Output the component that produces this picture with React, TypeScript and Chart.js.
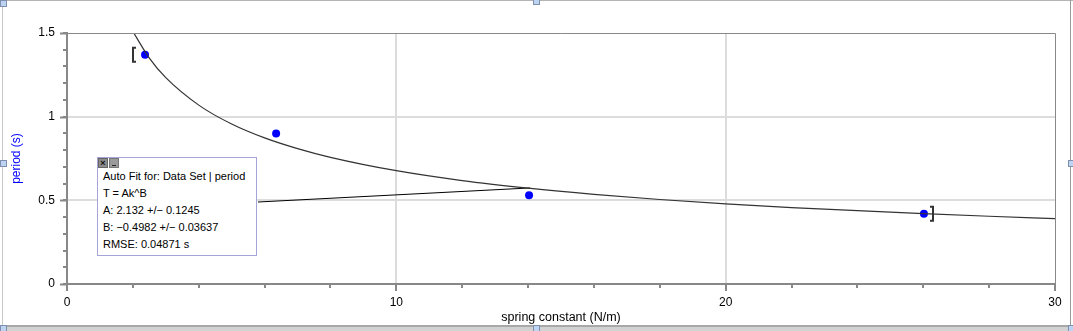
import React, { useEffect, useRef } from "react";
import { Chart, registerables } from "chart.js";

Chart.register(...registerables);

// Measured data (spring constant vs period)
const springK = [2.37, 6.35, 14.03, 26.02];
const period = [1.37, 0.9, 0.53, 0.42];

const fitK = [2, 2.5, 3, 4, 5, 6, 7, 8, 10, 12, 14, 16, 18, 20, 22, 24, 26, 28, 30];
const fitT = [1.509, 1.35, 1.233, 1.069, 0.956, 0.873, 0.809, 0.757, 0.677, 0.618, 0.573, 0.536, 0.505, 0.479, 0.457, 0.438, 0.421, 0.405, 0.391];

// Connector from the fit-info box to the curve
const connectorK = [5.8, 14.06];
const connectorT = [0.49, 0.574];

// Range brackets
const bracketK = [2.0, 26.3];
const bracketT = [1.37, 0.42];

const xMajor = [0, 10, 20, 30];
const yMajor = [0, 0.5, 1, 1.5];

const fitLines = [
  "Auto Fit for: Data Set | period",
  "T = Ak^B",
  "A: 2.132 +/\u2212 0.1245",
  "B: \u22120.4982 +/\u2212 0.03637",
  "RMSE: 0.04871 s",
];

const FONT = "'Liberation Sans', Arial, sans-serif";

const isMajor = (v: number, step: number) => Math.abs(v / step - Math.round(v / step)) < 1e-6;

const framePlugin = {
  id: "framePlugin",
  afterDraw(chart: any) {
    const { ctx, chartArea, scales } = chart;
    const { left, right, top, bottom } = chartArea;
    ctx.save();
    ctx.strokeStyle = "#888";
    ctx.lineWidth = 1;
    ctx.beginPath();
    ctx.moveTo(left, top + 0.5);
    ctx.lineTo(right + 0.5, top + 0.5);
    ctx.lineTo(right + 0.5, bottom);
    ctx.stroke();
    // long major ticks
    ctx.lineWidth = 2;
    ctx.beginPath();
    yMajor.forEach((v) => {
      const py = Math.round(scales.y.getPixelForValue(v)) + 0.5;
      ctx.moveTo(left - 7, py);
      ctx.lineTo(left, py);
    });
    xMajor.forEach((v) => {
      const px = Math.round(scales.x.getPixelForValue(v));
      ctx.moveTo(px, bottom);
      ctx.lineTo(px, bottom + 7);
    });
    ctx.stroke();
    ctx.restore();
  },
  afterDatasetsDraw(chart: any) {
    const { ctx, scales } = chart;
    ctx.save();
    ctx.strokeStyle = "#333";
    ctx.lineWidth = 2;
    bracketK.forEach((k, i) => {
      const px = Math.round(scales.x.getPixelForValue(k));
      const py = scales.y.getPixelForValue(bracketT[i]);
      const h = 7;
      const dir = i === 0 ? 1 : -1;
      ctx.beginPath();
      ctx.moveTo(px + dir * 3, py - h);
      ctx.lineTo(px, py - h);
      ctx.lineTo(px, py + h);
      ctx.lineTo(px + dir * 3, py + h);
      ctx.stroke();
    });
    ctx.restore();
  },
};

function Handle({ left, top }: { left: number; top: number }) {
  return (
    <div
      style={{
        position: "absolute",
        left,
        top,
        width: 7,
        height: 7,
        background: "#bcd3f2",
        border: "1px solid #7f8fae",
        boxSizing: "border-box",
      }}
    />
  );
}

export default function App() {
  const canvasRef = useRef<HTMLCanvasElement | null>(null);

  useEffect(() => {
    const canvas = canvasRef.current;
    if (!canvas) return;
    const chart = new Chart(canvas, {
      type: "scatter",
      data: {
        datasets: [
          {
            type: "line",
            data: fitK.map((k, i) => ({ x: k, y: fitT[i] })),
            borderColor: "#333333",
            borderWidth: 1.2,
            pointRadius: 0,
            cubicInterpolationMode: "monotone",
            fill: false,
          } as any,
          {
            type: "line",
            data: connectorK.map((k, i) => ({ x: k, y: connectorT[i] })),
            borderColor: "#000",
            borderWidth: 1,
            pointRadius: 0,
            fill: false,
          } as any,
          {
            type: "scatter",
            data: springK.map((k, i) => ({ x: k, y: period[i] })),
            backgroundColor: "#0000ff",
            borderColor: "#0000ff",
            pointRadius: 4,
            borderWidth: 0,
          },
        ],
      },
      options: {
        responsive: false,
        animation: false,
        events: [],
        layout: { padding: { top: 33, right: 18, left: 0, bottom: 0 } },
        plugins: { legend: { display: false }, tooltip: { enabled: false } },
        scales: {
          x: {
            type: "linear",
            min: 0,
            max: 30,
            afterFit: (s: any) => {
              s.height = 47;
            },
            ticks: {
              stepSize: 2,
              autoSkip: false,
              maxRotation: 0,
              padding: 7,
              color: "#000",
              font: { family: FONT, size: 12 },
              callback: (v: any) => (isMajor(Number(v), 10) ? String(v) : ""),
            },
            grid: {
              color: (c: any) =>
                c.tick && (Math.abs(c.tick.value - 10) < 1e-6 || Math.abs(c.tick.value - 20) < 1e-6)
                  ? "#dcdcdc"
                  : "rgba(0,0,0,0)",
              lineWidth: 2,
              tickColor: "#888",
              tickLength: 4,
              tickWidth: 2,
            },
            border: { display: true, color: "#888", width: 2 },
            title: {
              display: true,
              text: "spring constant (N/m)",
              color: "#000",
              font: { family: FONT, size: 12.5 },
              padding: { top: 0, bottom: 6 },
            },
          },
          y: {
            type: "linear",
            min: 0,
            max: 1.5,
            afterFit: (s: any) => {
              s.width = 67;
            },
            ticks: {
              stepSize: 0.1,
              autoSkip: false,
              padding: 8,
              color: "#000",
              font: { family: FONT, size: 12 },
              callback: (v: any) => {
                const n = Number(v);
                return isMajor(n, 0.5) ? String(Math.round(n * 10) / 10) : "";
              },
            },
            grid: {
              color: (c: any) =>
                c.tick && (Math.abs(c.tick.value - 0.5) < 1e-6 || Math.abs(c.tick.value - 1) < 1e-6)
                  ? "#dcdcdc"
                  : "rgba(0,0,0,0)",
              lineWidth: 2,
              tickColor: "#888",
              tickLength: 4,
              tickWidth: 2,
            },
            border: { display: true, color: "#888", width: 2 },
            title: {
              display: true,
              text: "period (s)",
              color: "#0000ff",
              font: { family: FONT, size: 12 },
              padding: { top: 9, bottom: 0 },
            },
          },
        },
      },
      plugins: [framePlugin],
    });
    return () => chart.destroy();
  }, []);

  return (
    <div
      style={{
        position: "absolute",
        left: 0,
        top: 0,
        width: 1073,
        height: 331,
        background: "#fff",
        overflow: "hidden",
      }}
    >
      <canvas ref={canvasRef} width={1073} height={331} style={{ position: "absolute", left: 0, top: 0 }} />
      {/* outer window frame */}
      <div style={{ position: "absolute", left: 0, top: 0, width: 1073, height: 1, background: "#b4b4b4" }} />
      <div style={{ position: "absolute", left: 2, top: 0, width: 1, height: 331, background: "#c8c8c8" }} />
      <div style={{ position: "absolute", left: 1070, top: 0, width: 1, height: 331, background: "#9a9a9a" }} />
      <div style={{ position: "absolute", left: 0, top: 325, width: 1073, height: 2, background: "#a8a8a8" }} />
      <div style={{ position: "absolute", left: 0, top: 327, width: 1073, height: 4, background: "#d2d2d2" }} />
      <Handle left={0} top={0} />
      <Handle left={533} top={-2} />
      <Handle left={0} top={160} />
      <Handle left={1068} top={160} />
      <Handle left={0} top={325} />
      <Handle left={533} top={325} />
      <Handle left={1068} top={325} />
      {/* fit info box */}
      <div
        style={{
          position: "absolute",
          left: 97,
          top: 157,
          width: 160,
          height: 99,
          background: "#fff",
          border: "1px solid #a4a4d8",
          boxSizing: "border-box",
          fontFamily: FONT,
          fontSize: 11,
          color: "#000",
        }}
      >
        <div
          style={{
            position: "absolute",
            left: 0,
            top: 0,
            width: 10,
            height: 10,
            background: "#8c8c8c",
            border: "1px solid #666",
            boxSizing: "border-box",
            fontSize: 9,
            lineHeight: "8px",
            textAlign: "center",
            fontWeight: "bold",
            color: "#111",
          }}
        >
          ×
        </div>
        <div
          style={{
            position: "absolute",
            left: 11,
            top: 0,
            width: 10,
            height: 10,
            background: "#9a9a9a",
            border: "1px solid #777",
            boxSizing: "border-box",
          }}
        >
          <div style={{ position: "absolute", left: 2, top: 6, width: 4, height: 1, background: "#222" }} />
        </div>
        <div style={{ position: "absolute", left: 5, top: 10, lineHeight: "17px", whiteSpace: "nowrap" }}>
          {fitLines.map((t, i) => (
            <div key={i}>{t}</div>
          ))}
        </div>
      </div>
    </div>
  );
}
